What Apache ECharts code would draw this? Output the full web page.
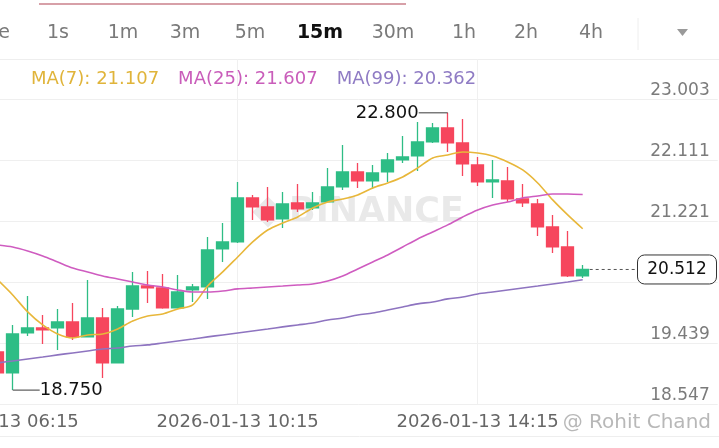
<!DOCTYPE html>
<html>
<head>
<meta charset="utf-8">
<script src="https://cdn.jsdelivr.net/npm/echarts@6/dist/echarts.min.js"></script>
<style>
html,body{margin:0;padding:0;background:#fff;}
#chart{width:719px;height:448px;}
</style>
</head>
<body>
<div id="chart"></div>
<script>
// ---- data ----
const times = ['06:15','06:30','06:45','07:00','07:15','07:30','07:45','08:00','08:15','08:30','08:45','09:00','09:15','09:30','09:45','10:00',
  '10:15','10:30','10:45','11:00','11:15','11:30','11:45','12:00','12:15','12:30','12:45','13:00','13:15','13:30','13:45','14:00',
  '14:15','14:30','14:45','15:00','15:15','15:30','15:45','16:00','16:15','16:30','16:45','17:00','17:15','17:30','17:45','18:00','18:15'];
const datePrefix = '2026-01-13 ';
const categories = times.map(t => datePrefix + t);
const labelledTimes = ['06:15', '10:15', '14:15'];

const opens  = [19.307,19.001,19.585,19.658,19.658,19.746,19.527,19.804,19.147,19.935,20.271,20.242,19.950,20.213,20.257,20.812,20.914,21.557,21.425,21.250,21.484,21.411,21.498,21.718,21.937,21.805,21.937,22.112,22.170,22.375,22.579,22.360,22.039,21.791,21.805,21.542,21.469,21.133,20.841,20.418];
const closes = [19.001,19.570,19.658,19.629,19.746,19.527,19.804,19.147,19.935,20.271,20.242,19.950,20.184,20.257,20.797,20.914,21.557,21.425,21.236,21.469,21.396,21.484,21.718,21.937,21.805,21.922,22.112,22.156,22.375,22.579,22.360,22.054,21.791,21.820,21.542,21.484,21.133,20.841,20.418,20.512];
const lows   = [18.972,18.750,19.541,19.424,19.337,19.483,19.527,18.928,19.147,19.819,20.023,19.940,19.940,20.038,20.082,20.622,20.900,21.236,21.206,21.119,21.352,21.382,21.490,21.674,21.703,21.688,21.791,22.068,21.951,22.360,22.229,21.878,21.732,21.557,21.498,21.425,21.002,20.753,20.403,20.388];
const highs  = [19.330,19.702,20.125,19.848,19.935,20.023,20.359,19.950,19.979,20.476,20.491,20.447,20.432,20.301,20.987,21.192,21.791,21.601,21.718,21.645,21.761,21.645,21.995,22.331,22.068,22.039,22.214,22.463,22.667,22.652,22.800,22.711,22.156,22.112,22.010,21.761,21.542,21.309,21.075,20.578];

const ma7  = [20.359,20.140,19.892,19.702,19.570,19.512,19.556,19.570,19.644,19.760,19.833,19.862,19.935,19.994,20.271,20.476,20.695,20.914,21.089,21.192,21.279,21.411,21.498,21.542,21.601,21.703,21.776,21.864,21.995,22.141,22.185,22.229,22.214,22.170,22.083,21.966,21.776,21.528,21.309,21.107];
const ma25 = [20.870,20.841,20.783,20.710,20.622,20.534,20.476,20.418,20.374,20.330,20.286,20.257,20.213,20.184,20.184,20.198,20.228,20.242,20.257,20.271,20.286,20.301,20.345,20.418,20.520,20.622,20.724,20.841,20.958,21.060,21.163,21.279,21.382,21.455,21.498,21.557,21.586,21.615,21.615,21.607];
const ma99 = [19.147,19.176,19.205,19.234,19.264,19.293,19.322,19.351,19.366,19.395,19.410,19.439,19.468,19.497,19.527,19.556,19.585,19.614,19.643,19.673,19.702,19.731,19.775,19.804,19.848,19.877,19.921,19.965,20.009,20.038,20.082,20.111,20.155,20.184,20.213,20.242,20.271,20.301,20.330,20.362];

const priceTicks = [18.547,19.439,20.330,21.221,22.111,23.003];
const timeTabs = ['1s','1m','3m','5m','15m','30m','1h','2h','4h'];
const activeTab = '15m';
const highIndex = 30, highValue = 22.800;
const lowIndex = 1, lowValue = 18.750;
const lastPrice = 20.512;

// ---- styles ----
const FONT = "'DejaVu Sans', sans-serif";
const UP = '#2EBD85', DOWN = '#F6465D';
const C7 = '#E8B73A', C25 = '#CF5CC0', C99 = '#8E74C0';
const T7 = '#E0B43A', T25 = '#C95DBA', T99 = '#8F7BC4';

const candles = opens.map((o, i) => [o, closes[i], lows[i], highs[i]]);
const labelIdx = labelledTimes.map(t => times.indexOf(t));

const chart = echarts.init(document.getElementById('chart'), null, {renderer: 'canvas'});

const tabX = [58, 123, 185, 250, 320, 393, 464, 526, 591];
const tabGraphics = timeTabs.map((t, i) => ({
  type: 'text', silent: true, x: tabX[i], y: 33,
  style: {
    text: t, align: 'center', verticalAlign: 'middle',
    font: (t === activeTab ? 'bold ' : '') + '19px ' + FONT,
    fill: t === activeTab ? '#111' : '#7a7a7a'
  }
}));

const staticGraphics = [
  {type: 'line', silent: true, shape: {x1: 39, y1: 4, x2: 406, y2: 4}, style: {stroke: '#d7a0a8', lineWidth: 2}},
  {type: 'text', silent: true, x: 10, y: 33, style: {text: 'Time', align: 'right', verticalAlign: 'middle', font: '19px ' + FONT, fill: '#7a7a7a'}},
  ...tabGraphics,
  {type: 'line', silent: true, shape: {x1: 638, y1: 18, x2: 638, y2: 50}, style: {stroke: '#eeeeee', lineWidth: 1}},
  {type: 'polygon', silent: true, shape: {points: [[677, 29], [688, 29], [682.5, 36]]}, style: {fill: '#9a9a9a'}},
  {type: 'line', silent: true, shape: {x1: 0, y1: 59.5, x2: 719, y2: 59.5}, style: {stroke: '#eeeeee', lineWidth: 1}},
  {type: 'line', silent: true, shape: {x1: 0, y1: 436.5, x2: 719, y2: 436.5}, style: {stroke: '#eeeeee', lineWidth: 1}},
  // watermark
  {type: 'rect', silent: true, z: -1, x: 268, y: 212, rotation: Math.PI / 4, shape: {x: -11, y: -11, width: 22, height: 22}, style: {fill: 'rgba(200,200,200,0.4)'}},
  {type: 'text', silent: true, z: -1, x: 289, y: 213, style: {text: 'BINANCE', align: 'left', verticalAlign: 'middle', font: 'bold 35px ' + FONT, fill: 'rgba(200,200,200,0.4)'}},
  {type: 'text', silent: true, z: 20, x: 711, y: 423, style: {text: '@ Rohit Chand', align: 'right', verticalAlign: 'middle', font: '20px ' + FONT, fill: 'rgba(160,160,160,0.75)'}}
];

const option = {
  backgroundColor: '#ffffff',
  animation: false,
  textStyle: {fontFamily: FONT},
  legend: {
    left: 21, top: 65, itemWidth: 0, itemHeight: 0, itemGap: 14, icon: 'rect',
    selectedMode: false,
    textStyle: {fontSize: 18, fontFamily: FONT},
    data: [
      {name: 'MA(7)', textStyle: {color: T7}},
      {name: 'MA(25)', textStyle: {color: T25}},
      {name: 'MA(99)', textStyle: {color: T99}}
    ],
    formatter: function (name) {
      const arr = name === 'MA(7)' ? ma7 : (name === 'MA(25)' ? ma25 : ma99);
      return name + ': ' + arr[arr.length - 1].toFixed(3);
    }
  },
  grid: {left: -2.3, top: 59, width: 720, height: 345, containLabel: false, outerBoundsMode: 'none'},
  xAxis: {
    type: 'category', data: categories, boundaryGap: false,
    axisLine: {show: false}, axisTick: {show: false},
    axisLabel: {
      color: '#666666', fontSize: 18, fontFamily: FONT, margin: 9, hideOverlap: false,
      interval: function (i) { return labelIdx.indexOf(i) >= 0; }
    },
    splitLine: {show: true, interval: function (i) { return i === labelIdx[1] || i === labelIdx[2]; }, lineStyle: {color: '#f0f0f0', width: 1}}
  },
  yAxis: {
    type: 'value', position: 'right', scale: true,
    min: 18.547, max: 23.5864,
    axisLine: {show: false},
    axisTick: {show: false, customValues: priceTicks},
    axisLabel: {
      customValues: priceTicks, inside: true, margin: 8,
      color: '#7b7b7b', fontSize: 17, fontFamily: FONT, verticalAlign: 'bottom', padding: [0, 0, 0, 0],
      formatter: v => v.toFixed(3)
    },
    splitLine: {show: true, lineStyle: {color: '#efefef', width: 1}}
  },
  series: [
    {
      type: 'candlestick', name: 'K', data: candles, barWidth: 12.5, z: 3,
      itemStyle: {color: UP, color0: DOWN, borderColor: UP, borderColor0: DOWN, borderWidth: 1.3}
    },
    {type: 'line', name: 'MA(7)', data: ma7, symbol: 'none', smooth: 0.3, z: 4, lineStyle: {color: C7, width: 1.6}, itemStyle: {color: C7}},
    {type: 'line', name: 'MA(25)', data: ma25, symbol: 'none', smooth: 0.3, z: 4, lineStyle: {color: C25, width: 1.6}, itemStyle: {color: C25}},
    {type: 'line', name: 'MA(99)', data: ma99, symbol: 'none', smooth: 0.3, z: 4, lineStyle: {color: C99, width: 1.6}, itemStyle: {color: C99}}
  ],
  graphic: staticGraphics
};

chart.setOption(option);

// markers positioned through the chart's own scales
const hp = chart.convertToPixel({gridIndex: 0}, [highIndex, highValue]);
const lp = chart.convertToPixel({gridIndex: 0}, [lowIndex, lowValue]);
const cp = chart.convertToPixel({gridIndex: 0}, [opens.length - 1, lastPrice]);

const dyn = [
  {type: 'line', silent: true, z: 10, shape: {x1: hp[0] - 29, y1: hp[1], x2: hp[0], y2: hp[1]}, style: {stroke: '#3a3a3a', lineWidth: 1}},
  {type: 'text', silent: true, z: 10, x: hp[0] - 29, y: hp[1], style: {text: highValue.toFixed(3), align: 'right', verticalAlign: 'middle', font: '18px ' + FONT, fill: '#111'}},
  {type: 'line', silent: true, z: 10, shape: {x1: lp[0], y1: lp[1], x2: lp[0] + 27, y2: lp[1]}, style: {stroke: '#3a3a3a', lineWidth: 1}},
  {type: 'text', silent: true, z: 10, x: lp[0] + 27, y: lp[1], style: {text: lowValue.toFixed(3), align: 'left', verticalAlign: 'middle', font: '18px ' + FONT, fill: '#111'}},
  {type: 'line', silent: true, z: 10, shape: {x1: cp[0] + 7, y1: cp[1], x2: 637, y2: cp[1]}, style: {stroke: '#555', lineWidth: 1, lineDash: [3, 3]}},
  {type: 'rect', silent: true, z: 11, shape: {x: 637.5, y: cp[1] - 14.5, width: 79, height: 29, r: 7}, style: {fill: '#fff', stroke: '#333', lineWidth: 1}},
  {type: 'text', silent: true, z: 12, x: 677, y: cp[1], style: {text: lastPrice.toFixed(3), align: 'center', verticalAlign: 'middle', font: '17px ' + FONT, fill: '#111'}}
];

chart.setOption({graphic: staticGraphics.concat(dyn)});
</script>
</body>
</html>
